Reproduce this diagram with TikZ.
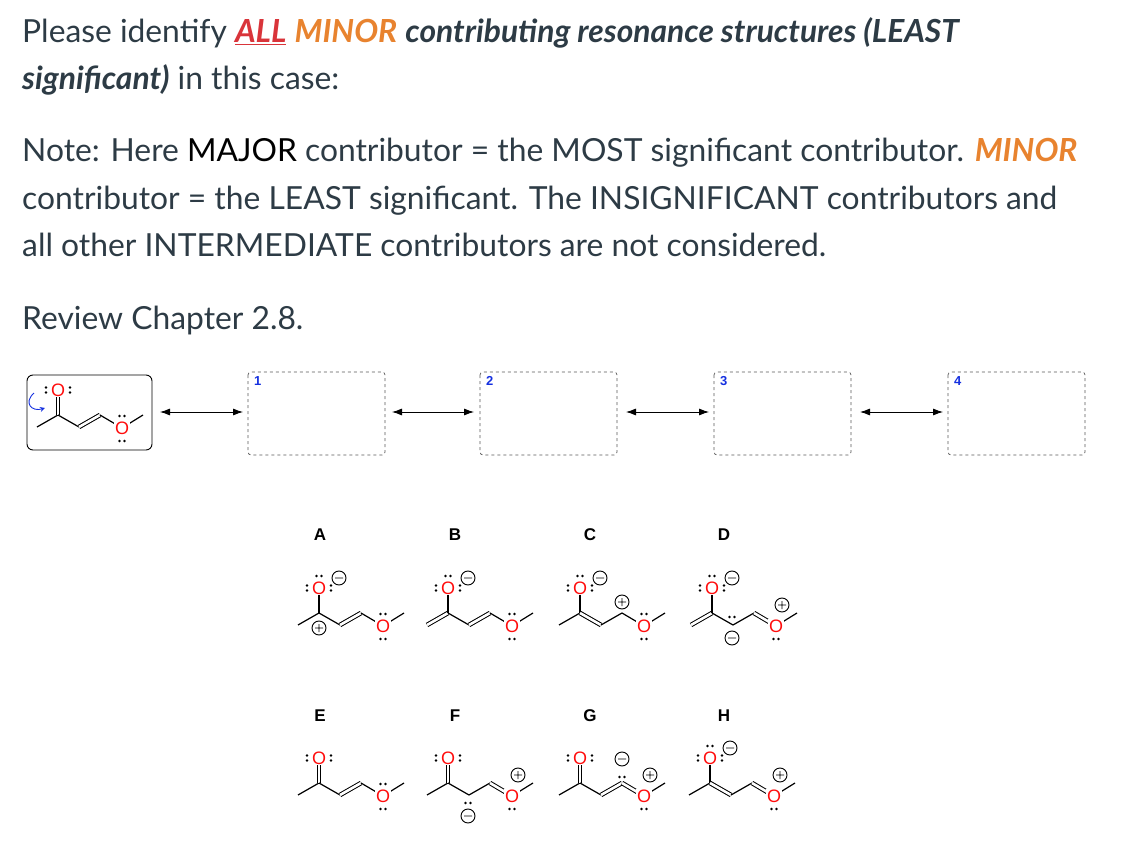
\documentclass[tikz,border=0pt]{standalone}
\usepackage{fontspec}
\setmainfont{Lato}
\newfontfamily\arl{Liberation Sans}
\usetikzlibrary{arrows.meta}
\definecolor{txt}{HTML}{2D3B45}
\definecolor{allred}{HTML}{D9343A}
\definecolor{minor}{HTML}{E8832F}
\definecolor{ored}{HTML}{FF0D0D}
\definecolor{nblue}{HTML}{1530E0}
\tikzset{
 bd/.style={line width=1.2pt},
 db/.style={line width=1pt,double=white,double distance=2.6pt},
 oat/.style={font=\arl\fontsize{18}{18}\selectfont,text=ored,fill=white,inner sep=0.6pt},
 lbl/.style={font=\arl\bfseries\fontsize{17}{17}\selectfont},
 txtl/.style={anchor=base west,inner sep=0,text=txt,font=\fontsize{31.8}{31.8}\selectfont},
 dbox/.style={draw=black!65,dashed,line width=0.7pt,rounded corners=3pt},
 rarr/.style={{Latex[length=10pt,width=7pt]}-{Latex[length=10pt,width=7pt]},line width=0.8pt},
 num/.style={font=\arl\bfseries\fontsize{13}{13}\selectfont,text=nblue,anchor=north west,inner sep=0}
}
\newcommand\lph[2]{\fill (#1-2.5,#2) circle (1.3pt) (#1+2.5,#2) circle (1.3pt);}
\newcommand\lpv[2]{\fill (#1,#2-2.5) circle (1.3pt) (#1,#2+2.5) circle (1.3pt);}
\newcommand\chp[2]{\draw[line width=0.9pt] (#1,#2) circle (7pt) (#1-4,#2)--(#1+4,#2) (#1,#2-4)--(#1,#2+4);}
\newcommand\chm[2]{\draw[line width=0.9pt] (#1,#2) circle (7pt) (#1-4,#2)--(#1+4,#2);}
\newcommand\skel[5]{%
 \coordinate (ma) at (-21,12); \coordinate (ca) at (0,0); \coordinate (oa) at (0,-25);
 \coordinate (cb) at (21,12); \coordinate (cc) at (42,0); \coordinate (ob) at (64,13); \coordinate (mb) at (85,0);
 \draw[#1] (ma)--(ca); \draw[#2] (ca)--(oa); \draw[#3] (ca)--(cb); \draw[#4] (cb)--(cc); \draw[#5] (cc)--(ob); \draw[bd] (ob)--(mb);
 \node[oat] (O1) at (oa) {O}; \node[oat] (O2) at (ob) {O};}
\newcommand\otwo{\lph{64}{1}\lph{64}{26}}
\newcommand\oneu{\lpv{-12}{-25}\lpv{12}{-25}}
\newcommand\oneneg{\lpv{-12}{-25}\lpv{12}{-25}\lph{0}{-37}\chm{20}{-35}}
\begin{document}
\begin{tikzpicture}[x=1pt,y=-1pt]
\useasboundingbox (0,0) rectangle (1122,842);
\node[txtl] (t1) at (22,43) {Please identify \textcolor{allred}{\bfseries\itshape\underline{ALL}} \textcolor{minor}{\bfseries\itshape MINOR} \textbf{\textit{contributing resonance structures (LEAST}}};
\node[txtl] (t2) at (22,90) {\textbf{\textit{significant)}} in this case:};
\node[txtl] (t3) at (22,162) {Note: Here \textcolor{black}{MAJOR} contributor = the MOST significant contributor. \textcolor{minor}{\bfseries\itshape MINOR}};
\node[txtl] (t4) at (22,210) {contributor = the LEAST significant. The INSIGNIFICANT contributors and};
\node[txtl] (t5) at (22,257) {all other INTERMEDIATE contributors are not considered.};
\node[txtl] (t6) at (22,330) {Review Chapter 2.8.};
\draw[line width=0.9pt,rounded corners=6pt] (27,375) rectangle (152,450);
\foreach \i/\x in {1/248,2/480,3/714,4/948}{
 \draw[dbox] (\x,372) rectangle (\x+137,455);
 \node[num] (n\i) at (\x+6,376) {\i};}
\coordinate (s0) at (160,412); \coordinate (e0) at (243,412);
\coordinate (s1) at (392,412); \coordinate (e1) at (474,412);
\coordinate (s2) at (626,412); \coordinate (e2) at (709,412);
\coordinate (s3) at (860,412); \coordinate (e3) at (943,412);
\foreach \i in {0,1,2,3}{\draw[rarr] (s\i)--(e\i);}
\begin{scope}[shift={(58,415)}]
 \skel{bd}{db}{bd}{db}{bd}\oneu\otwo
 \draw[nblue,line width=0.9pt,-{Stealth[length=5pt,width=5pt]}] (-24,-22) .. controls (-35,-12) and (-26,-3) .. (-13,-7);
\end{scope}
\foreach \l/\x/\y in {A/320/535,B/455/535,C/590/535,D/724/535,E/320/716,F/455/716,G/590/716,H/724/716}{
 \node[lbl] (L\l) at (\x,\y) {\l};}
\begin{scope}[shift={(319,613)}]
 \skel{bd}{bd}{bd}{db}{bd}\oneneg\otwo\chp{0}{15}
\end{scope}
\begin{scope}[shift={(448,613)}]
 \skel{db}{bd}{bd}{db}{bd}\oneneg\otwo
\end{scope}
\begin{scope}[shift={(580,613)}]
 \skel{bd}{bd}{db}{bd}{bd}\oneneg\otwo\chp{42}{-11}
\end{scope}
\begin{scope}[shift={(712,613)}]
 \skel{db}{bd}{bd}{bd}{db}\oneneg\lph{64}{26}\lph{20}{4}\chm{20}{25}\chp{70}{-8}
\end{scope}
\begin{scope}[shift={(319,783)}]
 \skel{bd}{db}{bd}{db}{bd}\oneu\otwo
\end{scope}
\begin{scope}[shift={(448,783)}]
 \skel{bd}{db}{bd}{bd}{db}\oneu\lph{64}{26}\lph{20}{20}\chm{20}{33}\chp{70}{-8}
\end{scope}
\begin{scope}[shift={(580,783)}]
 \skel{bd}{db}{bd}{db}{db}\oneu\lph{64}{26}\lph{42}{-6}\chm{42}{-24}\chp{70}{-8}
\end{scope}
\begin{scope}[shift={(710,783)}]
 \skel{bd}{bd}{db}{bd}{db}\oneneg\lph{64}{26}\chp{70}{-8}
\end{scope}
\end{tikzpicture}
\end{document}
